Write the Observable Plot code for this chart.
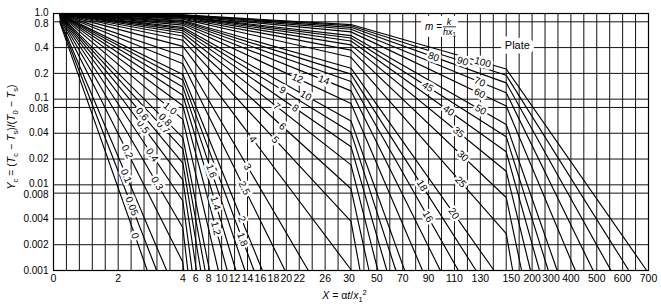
<!DOCTYPE html>
<html><head><meta charset="utf-8">
<script src="https://cdn.jsdelivr.net/npm/d3@7"></script>
<script src="https://cdn.jsdelivr.net/npm/@observablehq/plot@0.6"></script>
<style>body{margin:0;background:#fff} svg{display:block}</style>
</head><body><div id="chart"></div>
<script>
// m = k/(h x1) for each curve
const mLabels = ["0","0.05","0.1","0.2","0.3","0.4","0.5","0.6","0.7","0.8","1.0","1.2","1.4","1.6","1.8","2","2.5","3","4","5","6","7","8","9","10","12","14","16","18","20","25","30","35","40","45","50","60","70","80","90","100"];
// curve start X (left end of each line)
const startX = 0.2;
const yStart = [0.777,0.812,0.839,0.878,0.904,0.922,0.935,0.944,0.951,0.957,0.965,0.971,0.975,0.978,0.981,0.983,0.986,0.989,0.991,0.993,0.994,0.995,0.995,0.996,0.997,0.997,0.998,0.998,0.998,0.998,0.999,0.999,0.999,0.999,0.999,0.999,1.0,1.0,1.0,1.0,1.0];
// Y where each curve crosses the axis breaks X = 4, 30, 150
const yAtX4 = [null,null,null,0.00125,0.00316,0.00647,0.0114,0.0179,0.0261,0.0356,0.058,0.0836,0.111,0.139,0.167,0.194,0.259,0.319,0.413,0.488,0.546,0.592,0.631,0.663,0.690,0.733,0.765,0.791,0.811,0.828,0.860,0.881,0.897,0.909,0.919,0.927,0.938,0.947,0.953,0.958,0.963];
const yAtX30 = [null,null,null,null,null,null,null,null,null,null,null,null,null,null,null,null,null,null,0.00102,0.00374,0.0090,0.0171,0.0279,0.041,0.0557,0.089,0.125,0.161,0.196,0.230,0.308,0.374,0.430,0.477,0.517,0.552,0.610,0.654,0.690,0.719,0.743];
const yAtX150 = [null,null,null,null,null,null,null,null,null,null,null,null,null,null,null,null,null,null,null,null,null,null,null,null,null,null,null,null,null,null,0.00269,0.00712,0.0144,0.0243,0.0365,0.0507,0.0834,0.119,0.155,0.190,0.225];
// X where each curve reaches Y = 0.001
const bottomY = 0.001;
const xAtBottom = [2.90,3.19,3.50,4.13,4.77,5.43,6.10,6.77,7.44,8.13,9.49,10.86,12.2,13.6,15.0,16.3,19.8,23.4,30.1,37.0,43.9,50.8,57.7,64.7,71.5,85.3,99.1,113,126.7,140.6,175,209.5,244,278.7,312.7,347,417,486,555,624,693];
// curve label positions
const labelX = [2.52,2.42,2.25,2.28,3.2,3.05,2.77,2.74,3.38,3.45,3.6,9.1,9.05,8.4,13.2,13.1,13.5,14.0,14.8,18.3,19.4,18.5,21.4,19.4,23.0,21.7,25.8,89.3,84.8,109.4,114.8,116.3,113.2,105.5,89.3,130.2,129.5,129.5,93.9,116.3,131.8];
const labelY = [0.00254,0.00563,0.0127,0.02425,0.0104,0.0223,0.0475,0.0667,0.0469,0.0574,0.0779,0.0031,0.0061,0.0145,0.00231,0.00399,0.00915,0.01627,0.0341,0.0335,0.048,0.082,0.0782,0.1275,0.1096,0.1745,0.167,0.00426,0.0098,0.00462,0.0108,0.0217,0.041,0.0735,0.139,0.0752,0.1171,0.1589,0.311,0.2766,0.269];
// axes
const yTicks = [1, 0.8, 0.4, 0.2, 0.1, 0.08, 0.04, 0.02, 0.01, 0.008, 0.004, 0.002, 0.001];
const yTickLabels = ["1.0","0.8","0.4","0.2","0.1","0.08","0.04","0.02","0.01","0.008","0.004","0.002","0.001"];
const xTicks = [0,2,4,6,8,10,12,14,16,18,20,22,26,30,50,70,90,110,130,150,200,300,400,500,600,700];
const xTickLabels = ["0","2","4","6","8","10","12","14","16","18","20","22","26","30","50","70","90","110","130","150","200","300","400","500","600","700"];
const xBreaks = [0, 4, 30, 150, 700];
const xGridStep = [0.4, 2, 10, 50];
const plateLabel = {X: 193, Y: 0.42, text: "Plate"};
const mNote = {X: 100, Y: 0.69};

// piecewise-linear x axis: each segment is divided into equal grid cells
const segCells = xGridStep.map((s, i) => Math.round((xBreaks[i+1] - xBreaks[i]) / s));
const segStartU = segCells.reduce((a, c) => (a.push(a[a.length-1] + c), a), [0]);
const totalU = segStartU[segStartU.length - 1];
function toU(X) {
  for (let i = 0; i < xGridStep.length; i++) {
    if (X <= xBreaks[i+1] || i === xGridStep.length - 1)
      return segStartU[i] + (X - xBreaks[i]) / xGridStep[i];
  }
}
const gridU = d3.range(totalU + 1);

// build line rows
const curves = mLabels.map((m, i) => {
  const pts = [[startX, yStart[i]]];
  [[4, yAtX4[i]], [30, yAtX30[i]], [150, yAtX150[i]]].forEach(([b, y]) => { if (y != null) pts.push([b, y]); });
  pts.push([xAtBottom[i], bottomY]);
  return pts;
});
const rows = curves.flatMap((pts, i) => pts.map(([X, Y]) => ({m: mLabels[i], u: toU(X), Y})));

const xTickRows = xTicks.map((X, i) => ({u: toU(X), text: xTickLabels[i], X}));
const yTickRows = yTicks.map((v, i) => ({v, text: yTickLabels[i]}));
// crowded labels are spread apart, as in the original
const xLabelNudge = X => ({150: 5, 200: 13, 300: 6, 30: -2}[X] || 0);
const yLabelNudge = v => ({1: -1, 0.1: -1, 0.01: -1, 0.8: 1.5, 0.08: 1.5, 0.008: 1.5}[v] || 0);

const FONT = "'Liberation Sans', Arial, sans-serif";

function makePlot(angles) {
  const labelRows = mLabels.map((m, i) => ({m, u: toU(labelX[i]), Y: labelY[i], a: angles[i]}));
  return Plot.plot({
    width: 661, height: 305,
    marginLeft: 53, marginRight: 13, marginTop: 13, marginBottom: 35,
    style: {fontFamily: FONT, fontSize: "10px", background: "white", color: "black", overflow: "visible"},
    x: {domain: [0, totalU], axis: null},
    y: {type: "log", domain: [0.001, 1], axis: null},
    marks: [
      Plot.ruleX(gridU, {stroke: "#111", strokeWidth: 1}),
      Plot.ruleY(yTicks, {stroke: "#111", strokeWidth: 1}),
      Plot.line(rows, {x: "u", y: "Y", z: "m", stroke: "black", strokeWidth: 1.15}),
      Plot.text(labelRows, {x: "u", y: "Y", text: "m", rotate: "a", fill: "black", stroke: "white", strokeWidth: 5, fontSize: 10}),
      Plot.text([plateLabel], {x: d => toU(d.X), y: "Y", text: "text", fill: "black", stroke: "white", strokeWidth: 9, fontSize: 11}),
      Plot.frame({stroke: "black", strokeWidth: 1.2}),
      // y tick labels
      Plot.text(yTickRows, {y: "v", text: "text", frameAnchor: "left", textAnchor: "end", dx: -5, fill: "black", fontSize: 10}),
      // x tick labels
      Plot.text(xTickRows, {x: "u", text: "text", frameAnchor: "bottom", lineAnchor: "top", dy: 4, fill: "black", fontSize: 10.5}),
    ]
  });
}

// first pass: get scales to orient labels along their lines
const p0 = makePlot(mLabels.map(() => 0));
const sx = p0.scale("x"), sy = p0.scale("y");
const angles = mLabels.map((m, i) => {
  const pts = curves[i];
  const X = labelX[i];
  let k = 0;
  while (k < pts.length - 2 && X > pts[k+1][0]) k++;
  const x1 = sx.apply(toU(pts[k][0])), y1 = sy.apply(pts[k][1]);
  const x2 = sx.apply(toU(pts[k+1][0])), y2 = sy.apply(pts[k+1][1]);
  return Math.atan2(y2 - y1, x2 - x1) * 180 / Math.PI;
});
const plot = makePlot(angles);
document.getElementById("chart").append(plot);
const svg = d3.select(plot);

// nudge crowded tick labels
const textGroups = plot.querySelectorAll("g[aria-label='text']");
const nudge = (g, fn, vals, horiz) => g.querySelectorAll("text").forEach((t, i) => {
  const n = fn(vals[i]);
  if (n) {
    const tr = t.getAttribute("transform") || "";
    t.setAttribute("transform", tr + (horiz ? ` translate(${n},0)` : ` translate(0,${n})`));
  }
});
nudge(textGroups[textGroups.length - 1], xLabelNudge, xTicks, true);
nudge(textGroups[textGroups.length - 2], yLabelNudge, yTicks, false);

// rich-text titles
function rich(g, parts, size) {
  let shift = 0;
  parts.forEach(([t, s]) => {
    const ts = g.append("tspan").text(t);
    let target = 0;
    if (s.includes("sub")) target = size * 0.3;
    if (s.includes("sup")) target = -size * 0.4;
    ts.attr("dy", target - shift); shift = target;
    if (s.includes("sub") || s.includes("sup")) ts.attr("font-size", size * 0.72);
    if (s.includes("i")) ts.attr("font-style", "italic");
  });
}
const sxf = plot.scale("x"), syf = plot.scale("y");
const yTitle = svg.append("text")
  .attr("transform", "translate(15,137) rotate(-90)")
  .attr("text-anchor", "middle").attr("font-size", 10.5).attr("fill", "black")
  .attr("font-family", FONT);
rich(yTitle, [["Y","i"],["c","sub"],[" = (",""],["T","i"],["c","sub"],[" − ",""],["T","i"],["s","sub"],[")/(",""],["T","i"],["0","sub"],[" − ",""],["T","i"],["s","sub"],[")",""]], 10.5);

const xTitle = svg.append("text")
  .attr("x", (sxf.apply(0) + sxf.apply(totalU)) / 2 - 6).attr("y", 299)
  .attr("text-anchor", "middle").attr("font-size", 10.5).attr("fill", "black")
  .attr("font-family", FONT);
rich(xTitle, [["X","i"],[" = ",""],["α",""],["t","i"],["/",""],["x","i"],["1","sub"],["2","sup"]], 10.5);

// m = k / (h x1) note
const ax = sxf.apply(toU(mNote.X)), ay = syf.apply(mNote.Y);
const note = svg.append("g").attr("font-family", FONT).attr("fill", "black");
note.append("rect").attr("x", ax - 20).attr("y", ay - 11).attr("width", 37).attr("height", 21).attr("fill", "white");
note.append("text").attr("x", ax + 1).attr("y", ay + 3.5).attr("text-anchor", "end").attr("font-size", 10)
  .call(t => { t.append("tspan").attr("font-style", "italic").text("m"); t.append("tspan").text(" ="); });
note.append("text").attr("x", ax + 8).attr("y", ay - 2).attr("text-anchor", "middle").attr("font-size", 9).attr("font-style", "italic").text("k");
note.append("line").attr("x1", ax + 2).attr("x2", ax + 15).attr("y1", ay).attr("y2", ay).attr("stroke", "black").attr("stroke-width", 0.8);
const den = note.append("text").attr("x", ax + 8.5).attr("y", ay + 8.5).attr("text-anchor", "middle").attr("font-size", 9);
den.append("tspan").attr("font-style", "italic").text("hx");
den.append("tspan").attr("font-size", 6.5).attr("dy", 2).text("1");
</script></body></html>
